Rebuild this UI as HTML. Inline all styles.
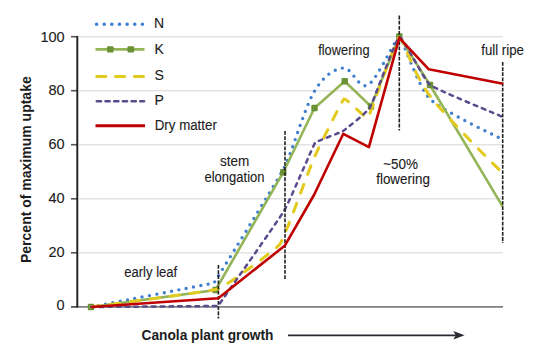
<!DOCTYPE html>
<html><head><meta charset="utf-8">
<style>
html,body{margin:0;padding:0;background:#fff;}
svg{display:block;font-family:"Liberation Sans",sans-serif;}
</style></head><body>
<svg width="537" height="360" viewBox="0 0 537 360">
<rect width="537" height="360" fill="#fff"/>
<line x1="79" y1="252.8" x2="503" y2="252.8" stroke="#e3e3e3" stroke-width="1.6"/>
<line x1="79" y1="198.8" x2="503" y2="198.8" stroke="#e3e3e3" stroke-width="1.6"/>
<line x1="79" y1="144.7" x2="503" y2="144.7" stroke="#e3e3e3" stroke-width="1.6"/>
<line x1="79" y1="90.7" x2="503" y2="90.7" stroke="#e3e3e3" stroke-width="1.6"/>
<line x1="79" y1="36.7" x2="503" y2="36.7" stroke="#e3e3e3" stroke-width="1.6"/>

<line x1="71" y1="306.8" x2="503" y2="306.8" stroke="#808080" stroke-width="1.8"/>
<line x1="71" y1="306.8" x2="77" y2="306.8" stroke="#555" stroke-width="1.6"/>
<line x1="71" y1="252.8" x2="77" y2="252.8" stroke="#555" stroke-width="1.6"/>
<line x1="71" y1="198.8" x2="77" y2="198.8" stroke="#555" stroke-width="1.6"/>
<line x1="71" y1="144.7" x2="77" y2="144.7" stroke="#555" stroke-width="1.6"/>
<line x1="71" y1="90.7" x2="77" y2="90.7" stroke="#555" stroke-width="1.6"/>
<line x1="71" y1="36.7" x2="77" y2="36.7" stroke="#555" stroke-width="1.6"/>

<line x1="77.3" y1="36" x2="77.3" y2="307.5" stroke="#1e1e1e" stroke-width="1.9"/>
<g fill="#1c1c1c" stroke="#1c1c1c" stroke-width="0.12">
<text x="40.40" y="41.70" font-size="14.5">100</text>
<text x="48.40" y="95.42" font-size="14.5">80</text>
<text x="48.40" y="149.14" font-size="14.5">60</text>
<text x="48.40" y="202.86" font-size="14.5">40</text>
<text x="48.40" y="256.58" font-size="14.5">20</text>
<text x="56.40" y="310.30" font-size="14.5">0</text>
<text x="154.00" y="28.40" font-size="14">N</text>
<text x="154.40" y="53.90" font-size="14">K</text>
<text x="154.40" y="79.80" font-size="14">S</text>
<text x="154.40" y="104.80" font-size="14">P</text>
<text x="154.75" y="129.80" font-size="14" textLength="62.08" lengthAdjust="spacingAndGlyphs">Dry matter</text>
<text x="318.20" y="54.80" font-size="14" textLength="51.34" lengthAdjust="spacingAndGlyphs">flowering</text>
<text x="481.30" y="54.60" font-size="14" textLength="42.53" lengthAdjust="spacingAndGlyphs">full ripe</text>
<text x="220.03" y="166.20" font-size="14" textLength="29.30" lengthAdjust="spacingAndGlyphs">stem</text>
<text x="204.47" y="181.50" font-size="14" textLength="60.11" lengthAdjust="spacingAndGlyphs">elongation</text>
<text x="383.14" y="169.20" font-size="14" textLength="34.76" lengthAdjust="spacingAndGlyphs">~50%</text>
<text x="376.20" y="184.00" font-size="14" textLength="53.69" lengthAdjust="spacingAndGlyphs">flowering</text>
<text x="124.17" y="276.80" font-size="14" textLength="53.06" lengthAdjust="spacingAndGlyphs">early leaf</text>
<text x="141.52" y="340.20" font-size="14" font-weight="bold" stroke-width="0" textLength="131.93" lengthAdjust="spacingAndGlyphs">Canola plant growth</text>
<text x="0" y="0" font-size="14" font-weight="bold" stroke-width="0" transform="translate(30.8 263) rotate(-90)">Percent of maximum uptake</text>
</g>
<!-- arrow -->
<line x1="288" y1="335.3" x2="456" y2="335.3" stroke="#2a2a33" stroke-width="1.8"/>
<path d="M464.6 335.3 L453.3 331.1 L455.8 335.3 L453.3 339.6 Z" fill="#2a2a33"/>
<!-- series -->
<path d="M91.0 307.0 C91.0 307.0 214.0 283.0 214.0 283.0 C214.0 283.0 275.7 183.9 284.0 168.0 C292.3 152.1 304.2 108.7 314.0 92.0 C323.8 75.3 334.0 69.2 343.0 68.0 C352.0 66.8 358.6 90.2 368.0 85.0 C377.4 79.8 396.2 36.3 399.3 37.0 C402.4 37.7 417.9 87.0 430.0 99.0 C442.1 111.0 503.0 139.5 503.0 139.5" fill="none" stroke="#3f7fd0" stroke-width="3.4" stroke-linecap="round" stroke-dasharray="0 7.45"/>
<path d="M91.0 307.0 L215.6 290.0 L283.3 172.2 L314.5 108.0 L344.7 81.3 L371.0 106.5 L399.3 36.5 L430.0 85.0 L502.7 206.7" fill="none" stroke="#93b558" stroke-width="2.6"/>
<rect x="87.8" y="303.8" width="6.4" height="6.4" rx="1" fill="#6b9136"/>
<rect x="212.4" y="286.8" width="6.4" height="6.4" rx="1" fill="#6b9136"/>
<rect x="280.1" y="169.0" width="6.4" height="6.4" rx="1" fill="#6b9136"/>
<rect x="311.3" y="104.8" width="6.4" height="6.4" rx="1" fill="#6b9136"/>
<rect x="341.5" y="78.1" width="6.4" height="6.4" rx="1" fill="#6b9136"/>
<rect x="367.8" y="103.3" width="6.4" height="6.4" rx="1" fill="#6b9136"/>
<rect x="396.1" y="33.3" width="6.4" height="6.4" rx="1" fill="#6b9136"/>
<rect x="426.8" y="81.8" width="6.4" height="6.4" rx="1" fill="#6b9136"/>

<path d="M91.0 307.0 C91.0 307.0 211.7 291.1 218.0 289.0 C224.3 286.9 275.2 250.6 280.0 244.0 C284.8 237.4 309.7 167.7 314.0 158.0 C318.3 148.3 342.2 100.3 344.0 99.0 C345.8 97.7 366.6 119.5 368.0 118.0 C369.4 116.5 396.2 38.1 399.3 37.0 C402.4 35.9 412.7 73.2 430.0 96.0 C447.3 118.8 503.0 173.5 503.0 173.5" fill="none" stroke="#e3cb1e" stroke-width="3" stroke-linecap="round" stroke-dasharray="9 11"/>
<path d="M91.0 307.0 C91.0 307.0 218.0 306.0 218.0 306.0 C218.0 306.0 279.1 219.2 284.0 211.0 C288.9 202.8 313.5 145.0 315.0 143.0 C316.5 141.0 340.2 132.8 343.0 131.0 C345.8 129.2 367.2 112.2 370.0 107.5 C372.8 102.8 396.3 38.1 399.3 37.0 C402.3 35.9 424.8 81.0 430.0 85.0 C435.2 89.0 503.0 117.0 503.0 117.0" fill="none" stroke="#5b4a8c" stroke-width="2.5" stroke-linecap="round" stroke-dasharray="3.6 5.1"/>
<line x1="218.4" y1="265.0" x2="218.4" y2="318.5" stroke="#222" stroke-width="1.6" stroke-dasharray="3.8 1.35"/>
<line x1="285.0" y1="131.0" x2="285.0" y2="279.0" stroke="#222" stroke-width="1.6" stroke-dasharray="3.8 1.35"/>
<line x1="399.3" y1="15.6" x2="399.3" y2="130.5" stroke="#222" stroke-width="1.6" stroke-dasharray="3.8 1.35"/>
<line x1="502.7" y1="62.0" x2="502.7" y2="243.0" stroke="#222" stroke-width="1.6" stroke-dasharray="3.8 1.35"/>

<path d="M91.0 307.0 L218.3 298.2 L284.7 245.8 L314.0 195.0 L343.3 133.8 L368.9 147.1 L399.3 37.8 L428.8 69.3 L503.0 83.8" fill="none" stroke="#c00000" stroke-width="2.6" stroke-linejoin="round"/>
<!-- legend -->
<line x1="96.6" y1="24.3" x2="142.4" y2="24.3" stroke="#3f7fd0" stroke-width="3.6" stroke-linecap="round" stroke-dasharray="0 7.63"/>
<line x1="95.5" y1="49.4" x2="144.5" y2="49.4" stroke="#93b558" stroke-width="2.7"/>
<rect x="107" y="46.2" width="6.6" height="6.4" rx="1" fill="#6b9136"/>
<rect x="127.5" y="46.2" width="6.6" height="6.4" rx="1" fill="#6b9136"/>
<line x1="96.7" y1="76.5" x2="145" y2="76.5" stroke="#e3cb1e" stroke-width="3" stroke-linecap="round" stroke-dasharray="9.2 9.6"/>
<line x1="96.8" y1="101.2" x2="144" y2="101.2" stroke="#5b4a8c" stroke-width="2.6" stroke-linecap="round" stroke-dasharray="4.2 4.5"/>
<line x1="95.5" y1="125.8" x2="145" y2="125.8" stroke="#c00000" stroke-width="3"/>
</svg>
</body></html>
